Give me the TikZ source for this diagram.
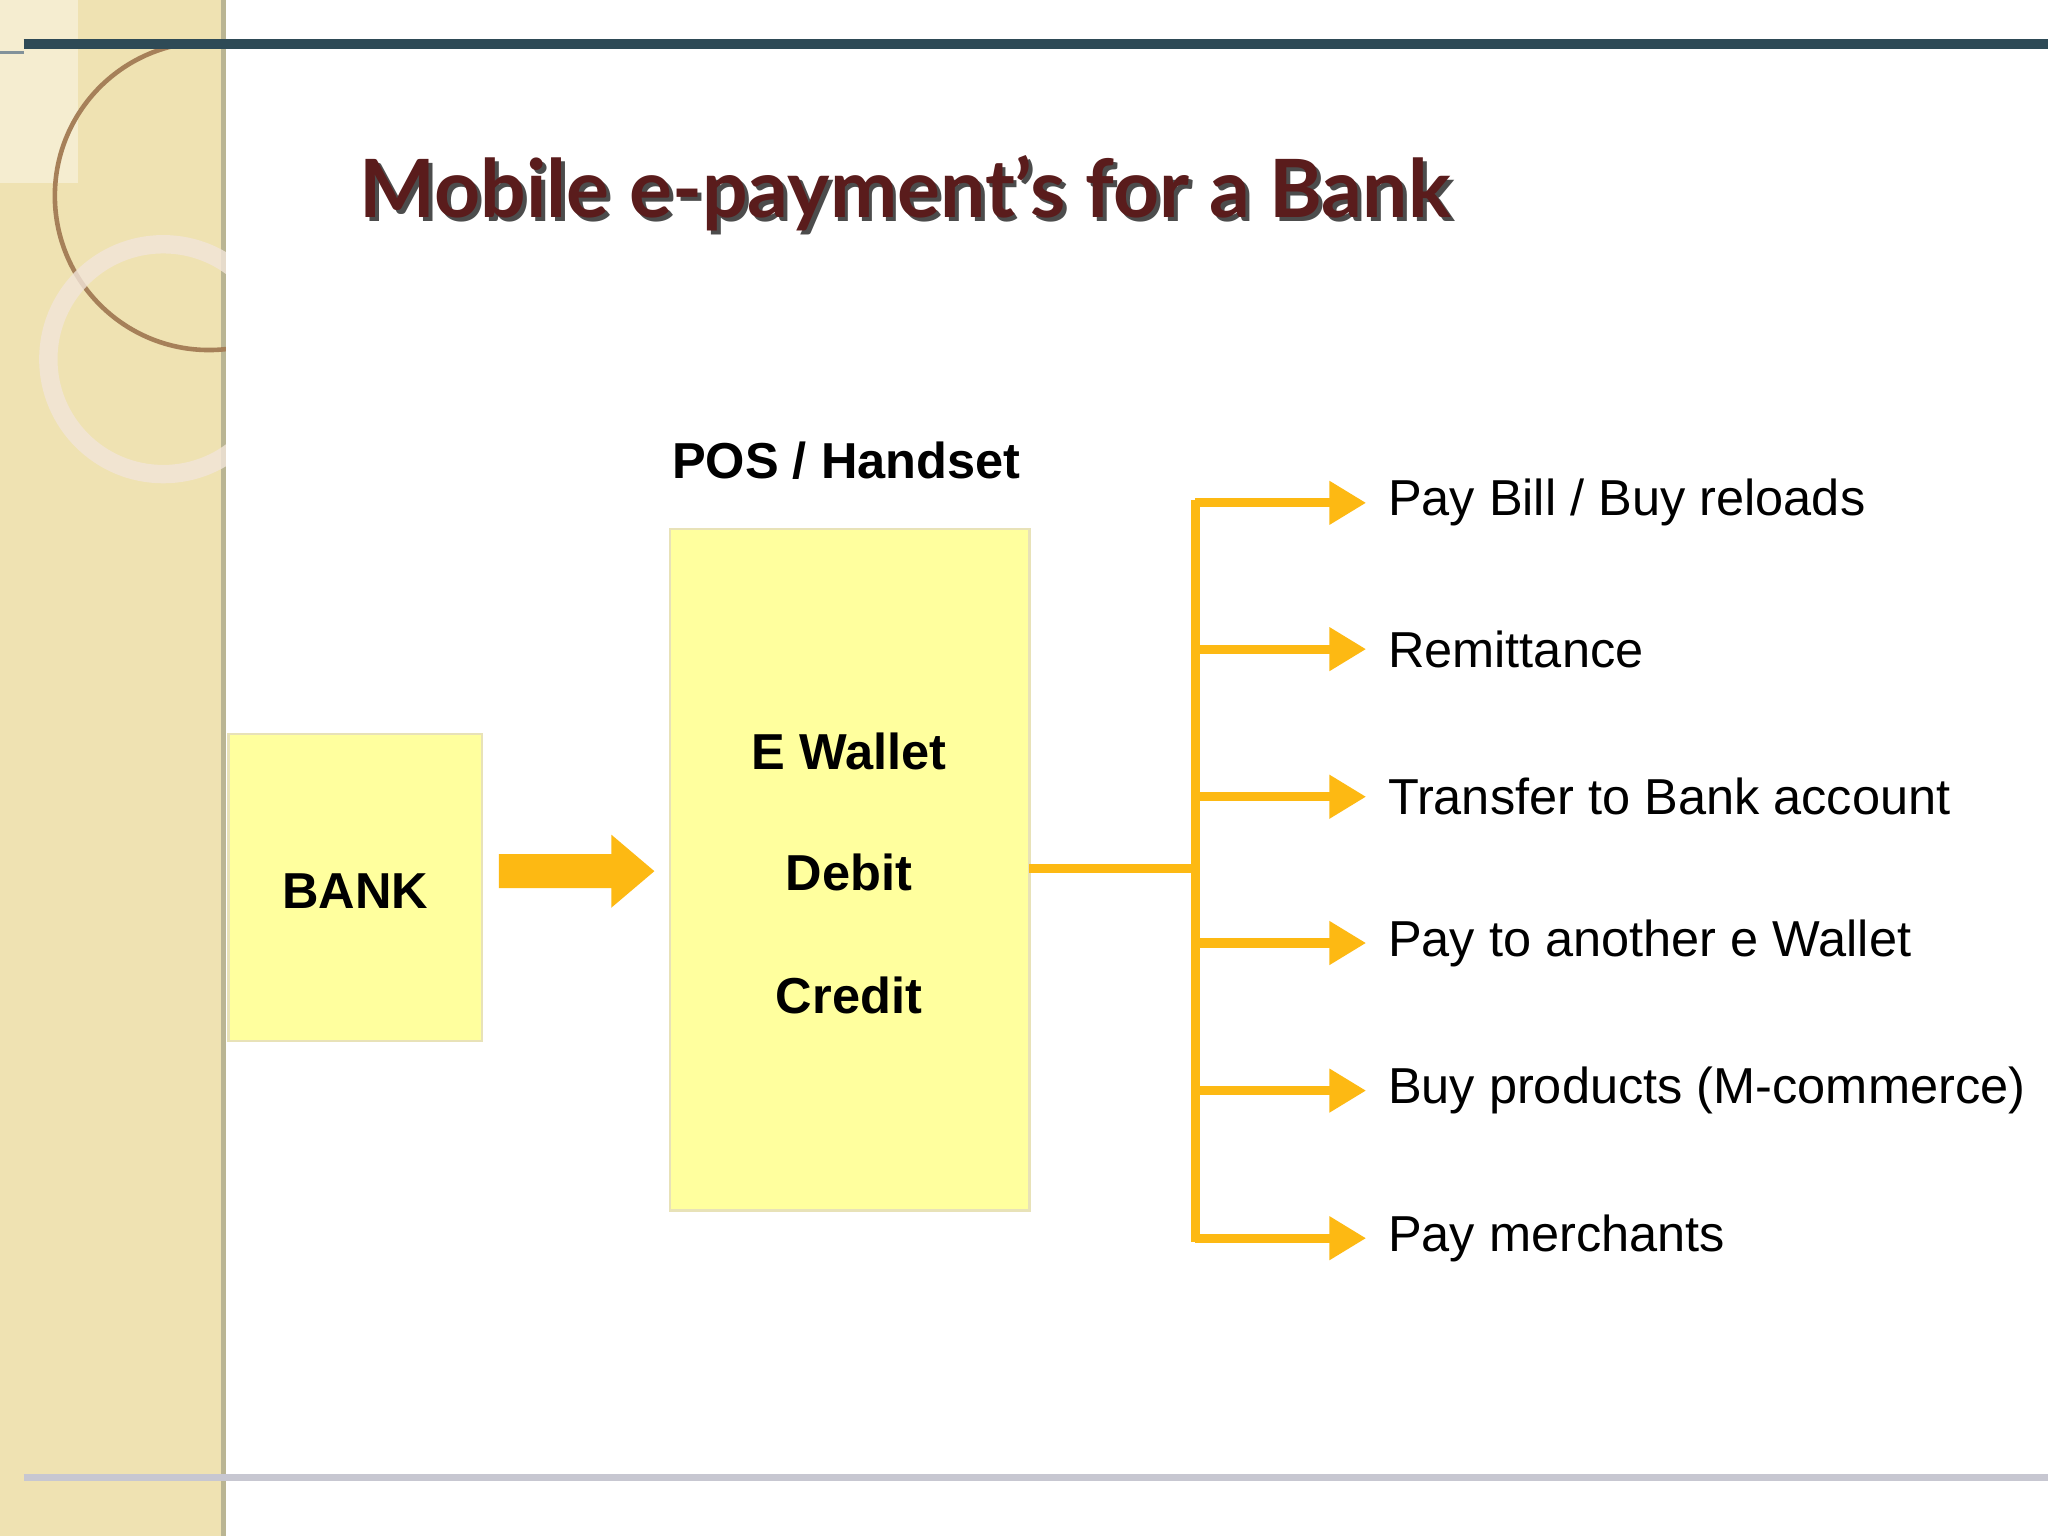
\documentclass[tikz,border=0pt]{standalone}
\usepackage{fontspec}
\setmainfont{Liberation Sans}
\newfontfamily\titlefont{Lato}
\usetikzlibrary{arrows.meta}
\definecolor{strip}{HTML}{EFE2B2}
\definecolor{boxy}{HTML}{FFFF9E}
\definecolor{boxb}{HTML}{E8E2B8}
\definecolor{org}{HTML}{FDB913}
\definecolor{bar}{HTML}{2E4A56}
\definecolor{ttl}{HTML}{5A1C1C}
\tikzset{
  ybox/.style={draw=boxb,fill=boxy,line width=0.6pt},
  conn/.style={draw=org,line width=2pt},
  br/.style={draw=org,line width=2pt,-{Triangle[length=8pt,width=9pt]}},
  lbl/.style={anchor=west,font=\fontsize{11}{13}\selectfont,inner sep=0pt},
  bl/.style={font=\bfseries\fontsize{11}{13}\selectfont}
}
\begin{document}
\begin{tikzpicture}[x=0.01cm,y=-0.01cm]
\useasboundingbox (0,0) rectangle (1568,1176);
\fill[white] (0,0) rectangle (1568,1176);
\fill[strip] (0,0) rectangle (172,1176);
\draw[color=boxb!80!black,line width=1.5pt] (172,0) -- (172,1176);
\fill[white,opacity=0.4] (0,0) rectangle (60,140);
\draw[color=brown!60!gray,line width=1pt] (160,150) circle (118);
\draw[color=white!80!brown,line width=4pt,opacity=0.8] (125,275) circle (88);
\fill[white] (173,0) rectangle (1568,1176);
\draw[bar,line width=2.2pt] (18,34) -- (1568,34);
\draw[bar!60,line width=0.6pt] (0,40) -- (18,40);
\draw[color=blue!10!gray!40,line width=1.5pt] (18,1131) -- (1568,1131);
\node[font=\titlefont\bfseries\fontsize{17.5}{20}\selectfont,text=black!70] at (696,151) {Mobile e-payment’s for a Bank};
\node[font=\titlefont\bfseries\fontsize{17.5}{20}\selectfont,text=ttl] (title) at (693,148) {Mobile e-payment’s for a Bank};
\node[bl] (pos) at (648,353) {POS / Handset};
\path[ybox] (175,562) rectangle (369,797);
\node[bl] (bank) at (272,682) {BANK};
\path[ybox] (513,405) rectangle (788,927);
\coordinate (pr) at (788,665);
\node[bl] (ew) at (650,575) {E Wallet};
\node[bl] (db) at (650,668) {Debit};
\node[bl] (cr) at (650,762) {Credit};
\fill[org] (382,654) -- (468,654) -- (468,639) -- (501,667) -- (468,695) -- (468,680) -- (382,680) -- cycle;
\coordinate (j) at (915,665);
\coordinate (t) at (915,383);
\coordinate (b) at (915,951);
\draw[conn] (pr) -- (j);
\draw[conn] (t) -- (b);
\foreach \yy/\tx [count=\i] in {385/{Pay Bill / Buy reloads},497/{Remittance},610/{Transfer to Bank account},722/{Pay to another e Wallet},835/{Buy products (M-commerce)},948/{Pay merchants}}{
  \coordinate (s\i) at (915,\yy);
  \coordinate (e\i) at (1046,\yy);
  \node[lbl] (l\i) at (1062,\yy) {\tx};
  \draw[br] (s\i) -- (e\i);
}
\end{tikzpicture}
\end{document}
